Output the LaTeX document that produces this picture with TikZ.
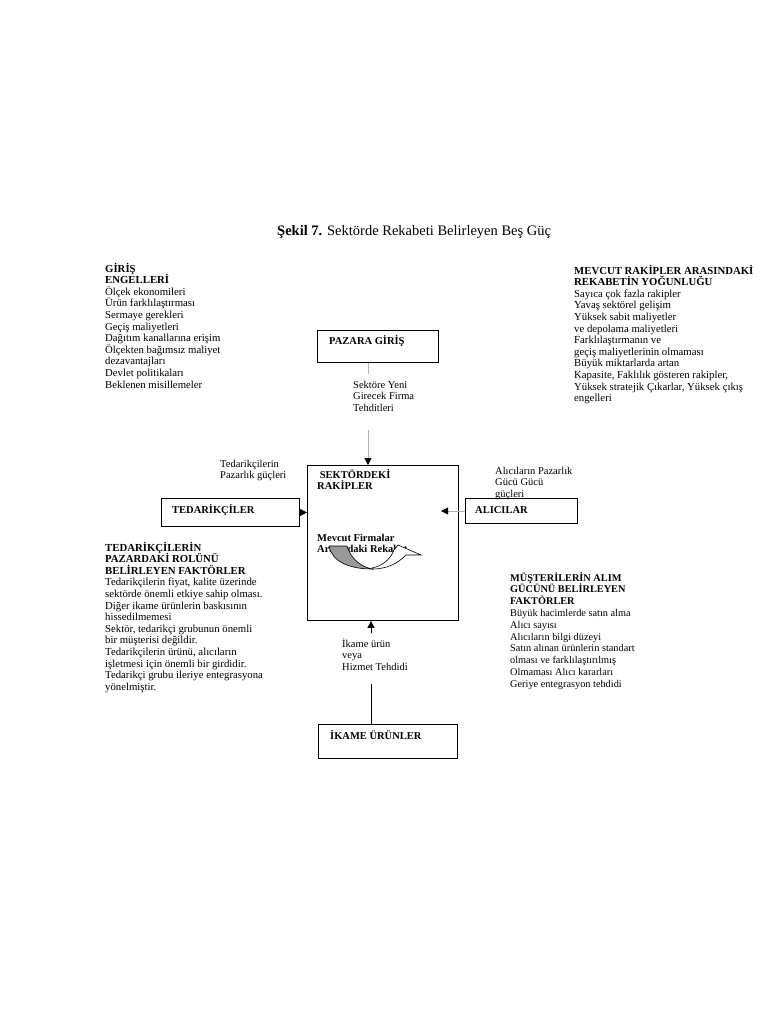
\documentclass[tikz,border=0pt]{standalone}
\usepackage{fontspec}
\setmainfont{Liberation Serif}
\usetikzlibrary{arrows.meta,calc}
\newcommand{\noLS}{\lineskiplimit=-\maxdimen\lineskip=0pt}
\begin{document}
\begin{tikzpicture}[x=1pt,y=-1pt,
  txt/.style={anchor=base west, inner sep=0pt, align=left, font=\fontsize{10.75}{11.6}\selectfont\noLS},
  lbl/.style={txt, font=\fontsize{10.5}{11.6}\selectfont\noLS},
  bxt/.style={txt, font=\fontsize{10.5}{11.6}\selectfont\bfseries\noLS},
  bx/.style={draw, line width=0.9pt, anchor=north west, inner sep=0pt},
  tip/.style={-{Triangle[length=7pt,width=7pt,color=black]}},
  gline/.style={draw=black!30, line width=0.8pt},
  bline/.style={draw=black, line width=0.9pt}]
\useasboundingbox[fill=white] (0,0) rectangle (768,1024);

% title
\node[anchor=base west, inner sep=0pt, font=\fontsize{14.5}{16}\selectfont] (title) at (277,236)
  {\textbf{Şekil 7.} Sektörde Rekabeti Belirleyen Beş Güç};

% boxes
\node[bx, minimum width=121pt, minimum height=32pt] (pazara) at (317,330) {};
\node[bx, minimum width=151pt, minimum height=155pt] (sektor) at (307,465) {};
\node[bx, minimum width=138pt, minimum height=28pt] (tedarik) at (161,498) {};
\node[bx, minimum width=112pt, minimum height=25pt] (alici) at (465,498) {};
\node[bx, minimum width=139pt, minimum height=34pt] (ikame) at (318,724) {};

% box labels (anchor at baseline of last line)
\node[bxt] (pazaraT) at (329,344) {PAZARA GİRİŞ};
\node[bxt] (sektorT) at (317,489.6) {\ SEKTÖRDEKİ\\RAKİPLER};
\node[bxt] (tedarikT) at (172,513) {TEDARİKÇİLER};
\node[bxt] (aliciT) at (475,513) {ALICILAR};
\node[bxt] (ikameT) at (330,739) {İKAME ÜRÜNLER};
\node[bxt] (mevcutT) at (317,552.6) {Mevcut Firmalar\\Arasındaki Rekabet};

% connector labels
\node[lbl] (yeniT) at (353,411.2) {Sektöre Yeni\\Girecek Firma\\Tehditleri};
\node[lbl] (tedPazT) at (220,478.6) {Tedarikçilerin\\Pazarlık güçleri};
\node[lbl] (aliPazT) at (495,497.2) {Alıcıların Pazarlık\\Gücü Gücü\\güçleri};
\node[lbl] (ikameL) at (342,670.2) {İkame ürün\\veya\\Hizmet Tehdidi};

% side blocks
\node[txt] (giris) at (105,388) {\textbf{GİRİŞ}\\\textbf{ENGELLERİ}\\Ölçek ekonomileri\\Ürün farklılaştırması\\Sermaye gerekleri\\Geçiş maliyetleri\\Dağıtım kanallarına erişim\\Ölçekten bağımsız maliyet\\dezavantajları\\Devlet politikaları\\Beklenen misillemeler};
\node[txt] (mevcut) at (574,401.6) {\textbf{MEVCUT RAKİPLER ARASINDAKİ}\\\textbf{REKABETİN YOĞUNLUĞU}\\Sayıca çok fazla rakipler\\Yavaş sektörel gelişim\\Yüksek sabit maliyetler\\ve depolama maliyetleri\\Farklılaştırmanın ve\\geçiş maliyetlerinin olmaması\\Büyük miktarlarda artan\\Kapasite, Faklılık gösteren rakipler,\\Yüksek stratejik Çıkarlar, Yüksek çıkış\\engelleri};
\node[txt] (tedrol) at (105,690.2) {\textbf{TEDARİKÇİLERİN}\\\textbf{PAZARDAKİ ROLÜNÜ}\\\textbf{BELİRLEYEN FAKTÖRLER}\\Tedarikçilerin fiyat, kalite üzerinde\\sektörde önemli etkiye sahip olması.\\Diğer ikame ürünlerin baskısının\\hissedilmemesi\\Sektör, tedarikçi grubunun önemli\\bir müşterisi değildir.\\Tedarikçilerin ürünü, alıcıların\\işletmesi için önemli bir girdidir.\\Tedarikçi grubu ileriye entegrasyona\\yönelmiştir.};
\node[txt, font=\fontsize{10.3}{11.8}\selectfont\noLS] (musteri) at (510,687.2) {\textbf{MÜŞTERİLERİN ALIM}\\\textbf{GÜCÜNÜ BELİRLEYEN}\\\textbf{FAKTÖRLER}\\Büyük hacimlerde satın alma\\Alıcı sayısı\\Alıcıların bilgi düzeyi\\Satın alınan ürünlerin standart\\olması ve farklılaştırılmış\\Olmaması Alıcı kararları\\Geriye entegrasyon tehdidi};

% connectors
\coordinate (topx) at (368,0);
\coordinate (gapA) at (368,374);
\coordinate (gapB) at (368,430);
\draw[gline] (pazara.south -| topx) -- (gapA);
\draw[gline, tip] (gapB) -- (sektor.north -| topx);

\coordinate (botx) at (371,0);
\coordinate (gapC) at (371,684);
\coordinate (gapD) at (371,633);
\draw[bline] (ikame.north -| botx) -- (gapC);
\draw[bline, tip] (gapD) -- (sektor.south -| botx);

\draw[bline, tip] (tedarik.east) -- (sektor.west |- tedarik.east);

\coordinate (aliciEnd) at (441,511);
\draw[gline, tip] (alici.west |- aliciEnd) -- (aliciEnd);

% curved arrow over the text
\filldraw[fill=black!40, draw=black, line width=0.6pt]
  (329,546) .. controls (332,562) and (350,569) .. (372,569)
  .. controls (358,566) and (350,556) .. (347,546) -- cycle;
\filldraw[fill=white, draw=black, line width=0.6pt]
  (372,569) .. controls (388,569) and (398,563) .. (406,555)
  -- (421,555) -- (398,545) -- (394,550)
  .. controls (390,560) and (382,566) .. (372,568) -- cycle;
\end{tikzpicture}
\end{document}
